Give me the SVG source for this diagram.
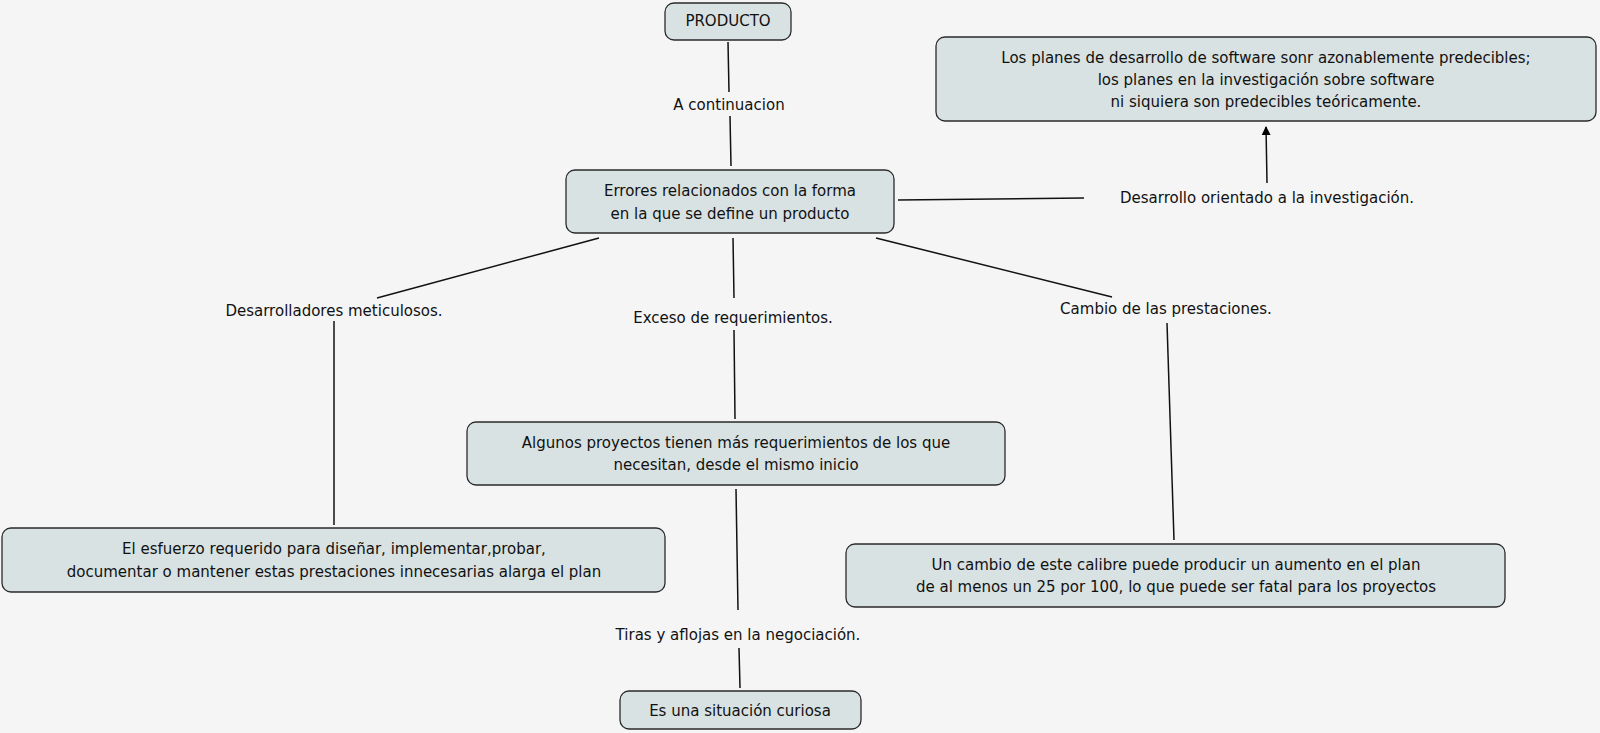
<svg xmlns="http://www.w3.org/2000/svg" width="1600" height="733" viewBox="0 0 1600 733">
<style>
.n rect{fill:#d8e2e2;stroke:#2a2a2a;stroke-width:1.3}
text{font-family:"DejaVu Sans",Verdana,sans-serif;font-size:15px;fill:#111;text-anchor:middle}
.c line{stroke:#111;stroke-width:1.5}
</style>
<defs><marker id="a" viewBox="0 0 10 10" refX="9" refY="5" markerWidth="9" markerHeight="11" orient="auto" markerUnits="userSpaceOnUse"><path d="M0,0L10,5L0,10z" fill="#000"/></marker></defs>
<rect width="1600" height="733" fill="#f5f5f5"/>
<g class="c">
<line x1="728" y1="42" x2="729" y2="92"/><line x1="730" y1="116" x2="731" y2="166"/>
<line x1="898" y1="200" x2="1084" y2="198"/>
<line x1="1267" y1="183" x2="1266" y2="127" marker-end="url(#a)"/>
<line x1="599" y1="238" x2="377" y2="298"/>
<line x1="334" y1="321" x2="334" y2="525"/>
<line x1="733" y1="238" x2="734" y2="298"/>
<line x1="734" y1="330" x2="735" y2="419"/>
<line x1="876" y1="238" x2="1112" y2="297"/>
<line x1="1167" y1="323" x2="1174" y2="540"/>
<line x1="736" y1="489" x2="738" y2="610"/>
<line x1="739" y1="648" x2="740" y2="688"/>
</g>
<g id="producto" class="n"><rect x="665" y="3" width="126" height="37" rx="9"/><text x="728" y="26">PRODUCTO</text></g>
<text x="729" y="110">A continuacion</text>
<g id="errores" class="n"><rect x="566" y="170" width="328" height="63" rx="9"/><text x="730" y="196">Errores relacionados con la forma</text><text x="730" y="219">en la que se define un producto</text></g>
<g id="planes" class="n"><rect x="936" y="37" width="660" height="84" rx="9"/><text x="1266" y="63">Los planes de desarrollo de software sonr azonablemente predecibles;</text><text x="1266" y="85">los planes en la investigación sobre software</text><text x="1266" y="107">ni siquiera son predecibles teóricamente.</text></g>
<text x="1267" y="203">Desarrollo orientado a la investigación.</text>
<text x="334" y="316">Desarrolladores meticulosos.</text>
<text x="733" y="323">Exceso de requerimientos.</text>
<text x="1166" y="314">Cambio de las prestaciones.</text>
<g id="algunos" class="n"><rect x="467" y="422" width="538" height="63" rx="9"/><text x="736" y="448">Algunos proyectos tienen más requerimientos de los que</text><text x="736" y="470">necesitan, desde el mismo inicio</text></g>
<g id="esfuerzo" class="n"><rect x="2" y="528" width="663" height="64" rx="9"/><text x="334" y="554">El esfuerzo requerido para diseñar, implementar,probar,</text><text x="334" y="577">documentar o mantener estas prestaciones innecesarias alarga el plan</text></g>
<g id="cambio" class="n"><rect x="846" y="544" width="659" height="63" rx="9"/><text x="1176" y="570">Un cambio de este calibre puede producir un aumento en el plan</text><text x="1176" y="592">de al menos un 25 por 100, lo que puede ser fatal para los proyectos</text></g>
<text x="738" y="640">Tiras y aflojas en la negociación.</text>
<g id="curiosa" class="n"><rect x="620" y="691" width="241" height="38" rx="9"/><text x="740" y="716">Es una situación curiosa</text></g>
</svg>
